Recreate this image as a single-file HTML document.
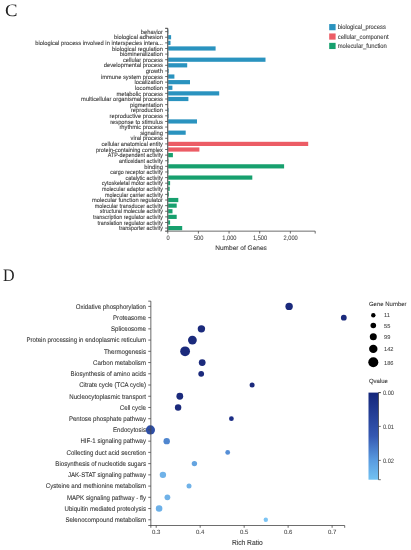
<!DOCTYPE html>
<html lang="en"><head><meta charset="utf-8"><title>Figure C D</title>
<style>html,body{margin:0;padding:0;background:#fff}svg{display:block}text{text-rendering:geometricPrecision;font-family:"Liberation Sans",Arial,sans-serif;fill:#363636;stroke:#363636;stroke-width:0.08px}.l{fill:#3a3a3a;stroke:#3a3a3a;stroke-width:0.08px}.t{fill:#3c3c3c;stroke:#3c3c3c;stroke-width:0.05px}.s{font-family:"Liberation Serif","Times New Roman",serif;stroke:none;fill:#222}</style>
</head><body>
<svg width="411" height="550" viewBox="0 0 411 550">
<rect width="411" height="550" fill="#fff"/>
<text class="s" transform="translate(11.34,15.6) scale(1.07,1)" text-anchor="middle" font-size="17.5">C</text>
<text class="s" transform="translate(8.75,280.7) scale(0.915,1)" text-anchor="middle" font-size="17.5">D</text>
<g>
<text transform="translate(162.90,33.79) scale(1,1.05)" font-size="5.76" text-anchor="end">behavior</text>
<text transform="translate(162.90,39.40) scale(1,1.05)" font-size="5.76" text-anchor="end">biological adhesion</text>
<text transform="translate(162.90,45.02) scale(1,1.05)" font-size="5.76" text-anchor="end">biological process involved in interspecies intera...</text>
<text transform="translate(162.90,50.63) scale(1,1.05)" font-size="5.76" text-anchor="end">biological regulation</text>
<text transform="translate(162.90,56.24) scale(1,1.05)" font-size="5.76" text-anchor="end">biomineralization</text>
<text transform="translate(162.90,61.85) scale(1,1.05)" font-size="5.76" text-anchor="end">cellular process</text>
<text transform="translate(162.90,67.47) scale(1,1.05)" font-size="5.76" text-anchor="end">developmental process</text>
<text transform="translate(162.90,73.08) scale(1,1.05)" font-size="5.76" text-anchor="end">growth</text>
<text transform="translate(162.90,78.69) scale(1,1.05)" font-size="5.76" text-anchor="end">immune system process</text>
<text transform="translate(162.90,84.31) scale(1,1.05)" font-size="5.76" text-anchor="end">localization</text>
<text transform="translate(162.90,89.92) scale(1,1.05)" font-size="5.76" text-anchor="end">locomotion</text>
<text transform="translate(162.90,95.53) scale(1,1.05)" font-size="5.76" text-anchor="end">metabolic process</text>
<text transform="translate(162.90,101.15) scale(1,1.05)" font-size="5.76" text-anchor="end">multicellular organismal process</text>
<text transform="translate(162.90,106.76) scale(1,1.05)" font-size="5.76" text-anchor="end">pigmentation</text>
<text transform="translate(162.90,112.37) scale(1,1.05)" font-size="5.76" text-anchor="end">reproduction</text>
<text transform="translate(162.90,117.99) scale(1,1.05)" font-size="5.76" text-anchor="end">reproductive process</text>
<text transform="translate(162.90,123.60) scale(1,1.05)" font-size="5.76" text-anchor="end">response to stimulus</text>
<text transform="translate(162.90,129.21) scale(1,1.05)" font-size="5.76" text-anchor="end">rhythmic process</text>
<text transform="translate(162.90,134.82) scale(1,1.05)" font-size="5.76" text-anchor="end">signaling</text>
<text transform="translate(162.90,140.44) scale(1,1.05)" font-size="5.76" text-anchor="end">viral process</text>
<text transform="translate(162.90,146.05) scale(0.975,1.05)" font-size="5.76" text-anchor="end">cellular anatomical entity</text>
<text transform="translate(162.90,151.66) scale(0.975,1.05)" font-size="5.76" text-anchor="end">protein-containing complex</text>
<text transform="translate(162.90,157.28) scale(0.935,1.05)" font-size="5.76" text-anchor="end">ATP-dependent activity</text>
<text transform="translate(162.90,162.89) scale(0.935,1.05)" font-size="5.76" text-anchor="end">antioxidant activity</text>
<text transform="translate(162.90,168.50) scale(1,1.05)" font-size="5.76" text-anchor="end">binding</text>
<text transform="translate(162.90,174.12) scale(0.935,1.05)" font-size="5.76" text-anchor="end">cargo receptor activity</text>
<text transform="translate(162.90,179.73) scale(0.935,1.05)" font-size="5.76" text-anchor="end">catalytic activity</text>
<text transform="translate(162.90,185.34) scale(0.935,1.05)" font-size="5.76" text-anchor="end">cytoskeletal motor activity</text>
<text transform="translate(162.90,190.95) scale(0.935,1.05)" font-size="5.76" text-anchor="end">molecular adaptor activity</text>
<text transform="translate(162.90,196.57) scale(0.935,1.05)" font-size="5.76" text-anchor="end">molecular carrier activity</text>
<text transform="translate(162.90,202.18) scale(1,1.05)" font-size="5.76" text-anchor="end">molecular function regulator</text>
<text transform="translate(162.90,207.79) scale(0.935,1.05)" font-size="5.76" text-anchor="end">molecular transducer activity</text>
<text transform="translate(162.90,213.41) scale(0.935,1.05)" font-size="5.76" text-anchor="end">structural molecule activity</text>
<text transform="translate(162.90,219.02) scale(0.935,1.05)" font-size="5.76" text-anchor="end">transcription regulator activity</text>
<text transform="translate(162.90,224.63) scale(0.935,1.05)" font-size="5.76" text-anchor="end">translation regulator activity</text>
<text transform="translate(162.90,230.25) scale(0.935,1.05)" font-size="5.76" text-anchor="end">transporter activity</text>
</g>
<rect x="168.20" y="29.54" width="0.30" height="4.2" fill="#2a93bf"/>
<rect x="168.20" y="35.15" width="2.90" height="4.2" fill="#2a93bf"/>
<rect x="168.20" y="40.77" width="2.30" height="4.2" fill="#2a93bf"/>
<rect x="168.20" y="46.38" width="47.40" height="4.2" fill="#2a93bf"/>
<rect x="168.20" y="51.99" width="0.30" height="4.2" fill="#2a93bf"/>
<rect x="168.20" y="57.60" width="97.30" height="4.2" fill="#2a93bf"/>
<rect x="168.20" y="63.22" width="19.00" height="4.2" fill="#2a93bf"/>
<rect x="168.20" y="68.83" width="0.60" height="4.2" fill="#2a93bf"/>
<rect x="168.20" y="74.44" width="6.20" height="4.2" fill="#2a93bf"/>
<rect x="168.20" y="80.06" width="21.80" height="4.2" fill="#2a93bf"/>
<rect x="168.20" y="85.67" width="4.20" height="4.2" fill="#2a93bf"/>
<rect x="168.20" y="91.28" width="51.00" height="4.2" fill="#2a93bf"/>
<rect x="168.20" y="96.90" width="20.20" height="4.2" fill="#2a93bf"/>
<rect x="168.20" y="108.12" width="0.50" height="4.2" fill="#2a93bf"/>
<rect x="168.20" y="113.74" width="0.50" height="4.2" fill="#2a93bf"/>
<rect x="168.20" y="119.35" width="28.80" height="4.2" fill="#2a93bf"/>
<rect x="168.20" y="130.57" width="17.50" height="4.2" fill="#2a93bf"/>
<rect x="168.20" y="141.80" width="140.00" height="4.2" fill="#ec5c65"/>
<rect x="168.20" y="147.41" width="31.20" height="4.2" fill="#ec5c65"/>
<rect x="168.20" y="153.03" width="4.70" height="4.2" fill="#17a06e"/>
<rect x="168.20" y="158.64" width="0.40" height="4.2" fill="#17a06e"/>
<rect x="168.20" y="164.25" width="115.90" height="4.2" fill="#17a06e"/>
<rect x="168.20" y="169.87" width="0.30" height="4.2" fill="#17a06e"/>
<rect x="168.20" y="175.48" width="84.10" height="4.2" fill="#17a06e"/>
<rect x="168.20" y="181.09" width="1.90" height="4.2" fill="#17a06e"/>
<rect x="168.20" y="186.70" width="1.50" height="4.2" fill="#17a06e"/>
<rect x="168.20" y="192.32" width="0.70" height="4.2" fill="#17a06e"/>
<rect x="168.20" y="197.93" width="10.10" height="4.2" fill="#17a06e"/>
<rect x="168.20" y="203.54" width="8.50" height="4.2" fill="#17a06e"/>
<rect x="168.20" y="209.16" width="4.30" height="4.2" fill="#17a06e"/>
<rect x="168.20" y="214.77" width="8.50" height="4.2" fill="#17a06e"/>
<rect x="168.20" y="220.38" width="1.90" height="4.2" fill="#17a06e"/>
<rect x="168.20" y="226.00" width="14.00" height="4.2" fill="#17a06e"/>
<path d="M165.15 28.3H167.75V231.15H165.15" fill="none" stroke="#333" stroke-width="0.95"/>
<path d="M165.15 31.64H167.75M165.15 37.25H167.75M165.15 42.87H167.75M165.15 48.48H167.75M165.15 54.09H167.75M165.15 59.70H167.75M165.15 65.32H167.75M165.15 70.93H167.75M165.15 76.54H167.75M165.15 82.16H167.75M165.15 87.77H167.75M165.15 93.38H167.75M165.15 99.00H167.75M165.15 104.61H167.75M165.15 110.22H167.75M165.15 115.84H167.75M165.15 121.45H167.75M165.15 127.06H167.75M165.15 132.67H167.75M165.15 138.29H167.75M165.15 143.90H167.75M165.15 149.51H167.75M165.15 155.13H167.75M165.15 160.74H167.75M165.15 166.35H167.75M165.15 171.97H167.75M165.15 177.58H167.75M165.15 183.19H167.75M165.15 188.80H167.75M165.15 194.42H167.75M165.15 200.03H167.75M165.15 205.64H167.75M165.15 211.26H167.75M165.15 216.87H167.75M165.15 222.48H167.75M165.15 228.10H167.75" fill="none" stroke="#484848" stroke-width="0.8"/>
<path d="M167.75 231.15H315.2V233.55M167.75 231.15V233.55M198.40 231.15V233.55M229.05 231.15V233.55M259.70 231.15V233.55M290.35 231.15V233.55" fill="none" stroke="#3c3c3c" stroke-width="0.75"/>
<g>
<text transform="translate(168.05,239.50) scale(1,1.15)" font-size="5.7" text-anchor="middle" class="t">0</text>
<text transform="translate(198.70,239.50) scale(1,1.15)" font-size="5.7" text-anchor="middle" class="t">500</text>
<text transform="translate(229.35,239.50) scale(1,1.15)" font-size="5.7" text-anchor="middle" class="t">1,000</text>
<text transform="translate(260.00,239.50) scale(1,1.15)" font-size="5.7" text-anchor="middle" class="t">1,500</text>
<text transform="translate(290.65,239.50) scale(1,1.15)" font-size="5.7" text-anchor="middle" class="t">2,000</text>
</g>
<text transform="translate(241.00,250.30) scale(1,1.01)" font-size="6.55" text-anchor="middle">Number of Genes</text>
<rect x="329.2" y="24.05" width="6.4" height="6.2" fill="#2a93bf"/>
<text transform="translate(337.70,29.35) scale(1,1.1)" font-size="5.87" class="l">biological_process</text>
<rect x="329.2" y="33.45" width="6.4" height="6.2" fill="#ec5c65"/>
<text transform="translate(337.70,38.75) scale(1,1.1)" font-size="5.87" class="l">cellular_component</text>
<rect x="329.2" y="42.85" width="6.4" height="6.2" fill="#17a06e"/>
<text transform="translate(337.70,48.15) scale(1,1.1)" font-size="5.87" class="l">molecular_function</text>
<g>
<text transform="translate(146.00,308.70) scale(1,1.1)" font-size="6.12" text-anchor="end">Oxidative phosphorylation</text>
<text transform="translate(146.00,319.93) scale(1,1.1)" font-size="6.12" text-anchor="end">Proteasome</text>
<text transform="translate(146.00,331.16) scale(1,1.1)" font-size="6.12" text-anchor="end">Spliceosome</text>
<text transform="translate(146.00,342.39) scale(1,1.1)" font-size="6.12" text-anchor="end">Protein processing in endoplasmic reticulum</text>
<text transform="translate(146.00,353.62) scale(1,1.1)" font-size="6.12" text-anchor="end">Thermogenesis</text>
<text transform="translate(146.00,364.85) scale(1,1.1)" font-size="6.12" text-anchor="end">Carbon metabolism</text>
<text transform="translate(146.00,376.08) scale(1,1.1)" font-size="6.12" text-anchor="end">Biosynthesis of amino acids</text>
<text transform="translate(146.00,387.31) scale(1,1.1)" font-size="6.12" text-anchor="end">Citrate cycle (TCA cycle)</text>
<text transform="translate(146.00,398.54) scale(1,1.1)" font-size="6.12" text-anchor="end">Nucleocytoplasmic transport</text>
<text transform="translate(146.00,409.77) scale(1,1.1)" font-size="6.12" text-anchor="end">Cell cycle</text>
<text transform="translate(146.00,421.00) scale(1,1.1)" font-size="6.12" text-anchor="end">Pentose phosphate pathway</text>
<text transform="translate(146.00,432.23) scale(1,1.1)" font-size="6.12" text-anchor="end">Endocytosis</text>
<text transform="translate(146.00,443.46) scale(1,1.1)" font-size="6.12" text-anchor="end">HIF-1 signaling pathway</text>
<text transform="translate(146.00,454.69) scale(1,1.1)" font-size="6.12" text-anchor="end">Collecting duct acid secretion</text>
<text transform="translate(146.00,465.92) scale(1,1.1)" font-size="6.12" text-anchor="end">Biosynthesis of nucleotide sugars</text>
<text transform="translate(146.00,477.15) scale(1,1.1)" font-size="6.12" text-anchor="end">JAK-STAT signaling pathway</text>
<text transform="translate(146.00,488.38) scale(1,1.1)" font-size="6.12" text-anchor="end">Cysteine and methionine metabolism</text>
<text transform="translate(146.00,499.61) scale(1,1.1)" font-size="6.12" text-anchor="end">MAPK signaling pathway - fly</text>
<text transform="translate(146.00,510.84) scale(1,1.1)" font-size="6.12" text-anchor="end">Ubiquitin mediated proteolysis</text>
<text transform="translate(146.00,522.07) scale(1,1.1)" font-size="6.12" text-anchor="end">Selenocompound metabolism</text>
</g>
<circle cx="289.1" cy="306.40" r="3.7" fill="#1b2a7c"/>
<circle cx="343.8" cy="317.63" r="2.9" fill="#1b2a7c"/>
<circle cx="201.4" cy="328.86" r="3.7" fill="#1b2a7c"/>
<circle cx="192.4" cy="340.09" r="4.4" fill="#1b2a7c"/>
<circle cx="185.1" cy="351.32" r="4.9" fill="#1b2a7c"/>
<circle cx="202.2" cy="362.55" r="3.4" fill="#1b2a7c"/>
<circle cx="201.2" cy="373.78" r="2.9" fill="#1b2a7c"/>
<circle cx="252.1" cy="385.01" r="2.5" fill="#1b2a7c"/>
<circle cx="179.8" cy="396.24" r="3.4" fill="#1b2a7c"/>
<circle cx="178.1" cy="407.47" r="3.2" fill="#1b2a7c"/>
<circle cx="231.4" cy="418.70" r="2.4" fill="#1c2e86"/>
<circle cx="150.4" cy="429.93" r="4.6" fill="#2f4fa6"/>
<circle cx="166.7" cy="441.16" r="3.2" fill="#4f86cf"/>
<circle cx="227.7" cy="452.39" r="2.4" fill="#558ed6"/>
<circle cx="194.4" cy="463.62" r="2.7" fill="#64a4e0"/>
<circle cx="162.9" cy="474.85" r="3.2" fill="#70b2e8"/>
<circle cx="189.0" cy="486.08" r="2.5" fill="#70b2e8"/>
<circle cx="167.4" cy="497.31" r="2.9" fill="#70b2e8"/>
<circle cx="159.1" cy="508.54" r="3.3" fill="#6cb0e8"/>
<circle cx="265.8" cy="519.77" r="2.2" fill="#7cc4f4"/>
<path d="M148.25 301.15H150.85V525.5" fill="none" stroke="#444" stroke-width="0.8"/>
<path d="M148.25 306.40H150.85M148.25 317.63H150.85M148.25 328.86H150.85M148.25 340.09H150.85M148.25 351.32H150.85M148.25 362.55H150.85M148.25 373.78H150.85M148.25 385.01H150.85M148.25 396.24H150.85M148.25 407.47H150.85M148.25 418.70H150.85M148.25 429.93H150.85M148.25 441.16H150.85M148.25 452.39H150.85M148.25 463.62H150.85M148.25 474.85H150.85M148.25 486.08H150.85M148.25 497.31H150.85M148.25 508.54H150.85M148.25 519.77H150.85" fill="none" stroke="#484848" stroke-width="0.8"/>
<path d="M150.85 527.8V525.5M148.25 525.5H344.7V527.8M156.20 525.5V527.8M200.18 525.5V527.8M244.16 525.5V527.8M288.14 525.5V527.8M332.12 525.5V527.8" fill="none" stroke="#3c3c3c" stroke-width="0.75"/>
<g>
<text transform="translate(156.20,533.70) scale(1,1.01)" font-size="6.0" text-anchor="middle" class="t">0.3</text>
<text transform="translate(200.18,533.70) scale(1,1.01)" font-size="6.0" text-anchor="middle" class="t">0.4</text>
<text transform="translate(244.16,533.70) scale(1,1.01)" font-size="6.0" text-anchor="middle" class="t">0.5</text>
<text transform="translate(288.14,533.70) scale(1,1.01)" font-size="6.0" text-anchor="middle" class="t">0.6</text>
<text transform="translate(332.12,533.70) scale(1,1.01)" font-size="6.0" text-anchor="middle" class="t">0.7</text>
</g>
<text transform="translate(247.30,544.80) scale(1,1.1)" font-size="6.7" text-anchor="middle">Rich Ratio</text>
<text transform="translate(368.90,306.00) scale(1,1.01)" font-size="6">Gene Number</text>
<circle cx="373.3" cy="315.2" r="2.2" fill="#000"/>
<text transform="translate(384.00,317.40) scale(1,1.01)" font-size="5.7" class="t">11</text>
<circle cx="373.3" cy="325.5" r="2.8" fill="#000"/>
<text transform="translate(384.00,327.70) scale(1,1.01)" font-size="5.7" class="t">55</text>
<circle cx="373.3" cy="336.8" r="3.5" fill="#000"/>
<text transform="translate(384.00,339.00) scale(1,1.01)" font-size="5.7" class="t">99</text>
<circle cx="373.3" cy="348.9" r="4.2" fill="#000"/>
<text transform="translate(384.00,351.10) scale(1,1.01)" font-size="5.7" class="t">142</text>
<circle cx="373.3" cy="362.3" r="5.0" fill="#000"/>
<text transform="translate(384.00,364.50) scale(1,1.01)" font-size="5.7" class="t">186</text>
<text transform="translate(368.90,382.50) scale(1,1.01)" font-size="6">Qvalue</text>
<defs><linearGradient id="qg" x1="0" y1="0" x2="0" y2="1"><stop offset="0" stop-color="#14267a"/><stop offset="0.5" stop-color="#3558b2"/><stop offset="0.78" stop-color="#5a9ce0"/><stop offset="1" stop-color="#72c2f2"/></linearGradient></defs>
<rect x="368.5" y="392.6" width="10" height="87.1" fill="url(#qg)"/>
<path d="M378.5 392.6V479.7M378.5 392.6H380.8M378.5 479.7H380.8M378.5 392.6H380.8M378.5 426.4H380.8M378.5 460.4H380.8" fill="none" stroke="#333" stroke-width="0.7"/>
<text transform="translate(382.90,395.00) scale(1,1.1)" font-size="5.7" class="t">0.00</text>
<text transform="translate(382.90,428.50) scale(1,1.1)" font-size="5.7" class="t">0.01</text>
<text transform="translate(382.90,462.50) scale(1,1.1)" font-size="5.7" class="t">0.02</text>
</svg></body></html>
